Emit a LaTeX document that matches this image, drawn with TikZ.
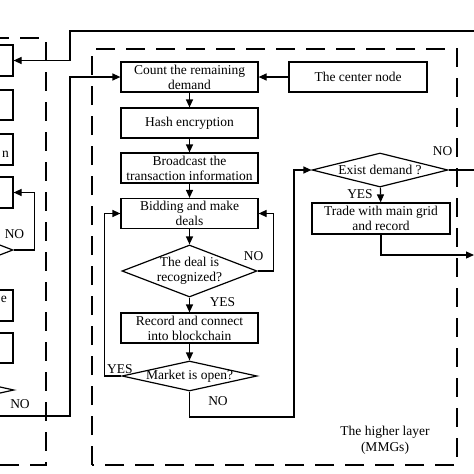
\documentclass[tikz,border=0pt]{standalone}
\usepackage{fontspec}
\setmainfont{Liberation Serif}
\usetikzlibrary{shapes.geometric,arrows.meta}
\begin{document}
\begin{tikzpicture}[x=1pt,y=-1pt,
  every node/.style={font=\fontsize{13.5}{15}\selectfont},
  box/.style={draw, line width=1.2pt, rectangle, minimum width=137pt, minimum height=30pt, inner sep=0pt, align=center},
  dia/.style={draw, line width=1.2pt, diamond, inner sep=0pt},
  txt/.style={inner sep=0pt, align=center},
  flow/.style={line width=1.2pt, -{Triangle[length=8pt,width=7pt]}},
  plain/.style={line width=1.2pt},
  layer/.style={line width=1.2pt, dash pattern=on 19pt off 11pt}
]
\useasboundingbox (0,0) rectangle (474,474);
\clip (0,0) rectangle (474,474);
\fill[white] (0,0) rectangle (474,474);

% layer frames
\draw[layer] (-10,38) -- (46,38) -- (46,465) -- (-10,465);
\draw[layer] (92,465) -- (92,49) -- (457,49) -- (457,465) -- cycle;

% middle column
\node[box] (count) at (189.5,77) {Count the remaining\\demand};
\node[box] (hash) at (189.5,123) {Hash encryption};
\node[box] (bcast) at (189.5,168) {Broadcast the\\transaction information};
\node[box] (bid) at (189.5,213.5) {Bidding and make\\deals};
\node[dia, minimum width=135pt, minimum height=52pt] (deal) at (189.5,271) {};
\node[txt] (dealt) at (deal.center) {The deal is\\recognized?};
\node[box] (rec) at (189.5,328) {Record and connect\\into blockchain};
\node[dia, minimum width=135pt, minimum height=30pt] (mkt) at (189.5,376) {};
\node[txt] (mktt) at (mkt.center) {Market is open?};

% right column
\node[box, minimum width=138pt] (center) at (358,77) {The center node};
\node[dia, minimum width=136pt, minimum height=34pt] (exist) at (380,170) {};
\node[txt] (existt) at (exist.center) {Exist demand ?};
\node[box, minimum width=138pt, minimum height=31pt] (trade) at (381,218.5) {Trade with main grid\\and record};

% left column (cut off)
\node[box, minimum width=150pt, minimum height=31pt] (l1) at (-62,60.5) {};
\node[box, minimum width=150pt, minimum height=30pt] (l2) at (-62,105) {};
\node[box, minimum width=150pt, minimum height=31pt] (l3) at (-62,149.5) {};
\node[box, minimum width=150pt, minimum height=31pt] (l4) at (-62,192.5) {};
\node[dia, minimum width=135pt, minimum height=52pt] (ld1) at (-54.5,250) {};
\node[box, minimum width=150pt, minimum height=31pt] (l5) at (-62,305.5) {};
\node[box, minimum width=150pt, minimum height=30pt] (l6) at (-62,348) {};
\node[dia, minimum width=135pt, minimum height=30pt] (ld2) at (-53.5,390) {};
\node[anchor=base east, inner sep=0pt] (l3t) at (9,157) {n};
\node[anchor=base east, inner sep=0pt] (l5t) at (7,302) {e};

% coordinates for free ends
\coordinate (topR) at (474,31);
\coordinate (topK) at (70,31);
\coordinate (lowB) at (70,416);
\coordinate (midB) at (294,417);
\coordinate (eR) at (474,170);
\coordinate (tR) at (474,255);

% connectors
\draw[flow] (count) -- (hash);
\draw[flow] (hash) -- (bcast);
\draw[flow] (bcast) -- (bid);
\draw[flow] (bid) -- (deal);
\draw[flow] (deal) -- (rec);
\draw[flow] (rec) -- (mkt);
\draw[flow] (center) -- (count);
\draw[flow] (deal.east) -- ++(16,0) |- (bid.east);
\draw[flow] (mkt.west) -- ++(-17,0) |- (bid.west);
\draw[flow] (mkt.south) |- (midB) |- (exist.west);
\draw[plain] (exist.east) -- (eR);
\draw[flow] (exist) -- (trade);
\draw[flow] (trade.south) |- (tR);
\draw[flow] (topR) -- (topK) |- (l1.east);
\draw[flow] (ld2.south) |- (lowB) |- (count.west);
\draw[flow] (ld1.east) -- ++(21,0) |- (l4.east);

% labels
\node[txt] (n1) at (253.5,256) {NO};
\node[txt] (y1) at (222.5,302.5) {YES};
\node[txt] (y2) at (120,369.5) {YES};
\node[txt] (n2) at (218,401.5) {NO};
\node[txt] (n3) at (442.5,151.5) {NO};
\node[txt] (y3) at (360,194) {YES};
\node[txt] (n4) at (14.5,234) {NO};
\node[txt] (n5) at (20,404) {NO};
\node[txt, font=\fontsize{13.5}{16}\selectfont] (hl) at (385,440) {The higher layer\\(MMGs)};
\end{tikzpicture}
\end{document}
